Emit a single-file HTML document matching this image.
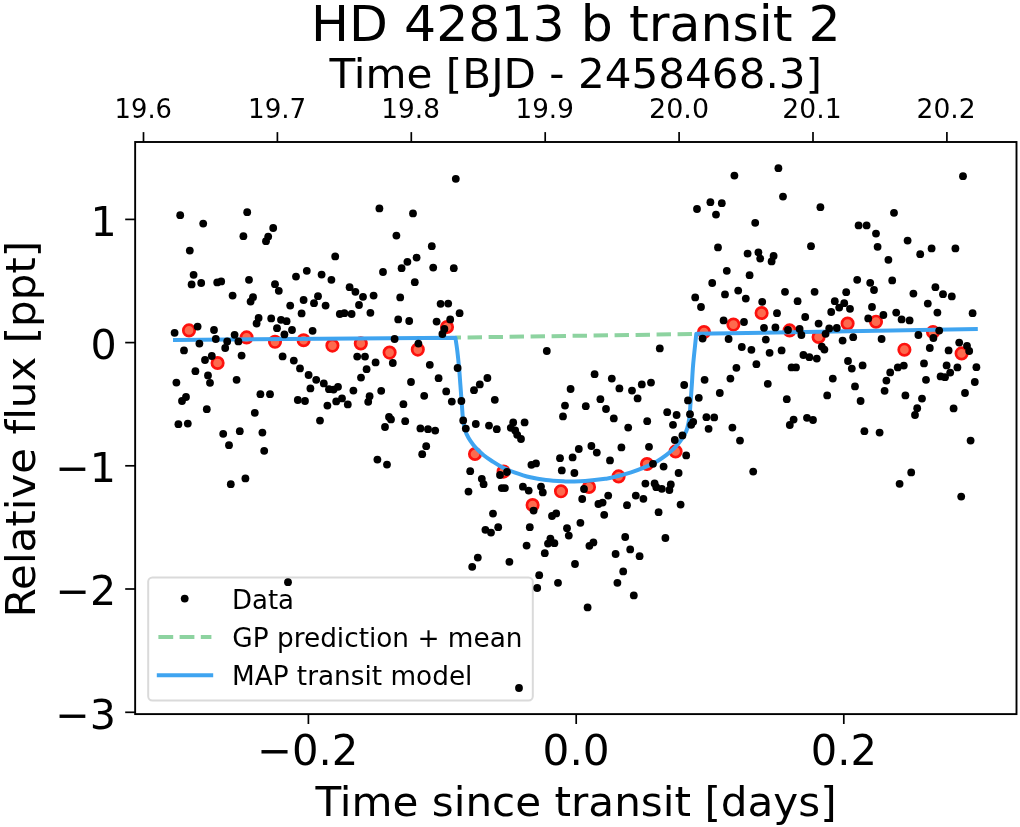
<!DOCTYPE html>
<html lang="en"><head><meta charset="utf-8"><title>HD 42813 b transit 2</title>
<style>html,body{margin:0;padding:0;background:#fff;}body{width:1020px;height:827px;overflow:hidden;}svg{display:block;}text{font-family:"DejaVu Sans", "Liberation Sans", sans-serif;fill:#000;font-variant-ligatures:none;}</style></head><body>
<svg width="1020" height="827" viewBox="0 0 1020 827">
<rect x="0" y="0" width="1020" height="827" fill="#fff"/>
<rect x="148.2" y="577.4" width="384.6" height="123" rx="4.2" ry="4.2" fill="#fff" stroke="#dadada" stroke-width="2"/>
<g fill="#fd6a4e" stroke="#fd120e" stroke-width="2.7">
<circle cx="189.0" cy="330.4" r="5.7"/>
<circle cx="217.6" cy="363.0" r="5.7"/>
<circle cx="246.6" cy="337.4" r="5.7"/>
<circle cx="275.0" cy="341.8" r="5.7"/>
<circle cx="303.6" cy="340.2" r="5.7"/>
<circle cx="332.4" cy="345.6" r="5.7"/>
<circle cx="360.8" cy="343.4" r="5.7"/>
<circle cx="389.6" cy="352.6" r="5.7"/>
<circle cx="417.8" cy="349.6" r="5.7"/>
<circle cx="447.0" cy="327.0" r="5.7"/>
<circle cx="475.0" cy="454.0" r="5.7"/>
<circle cx="503.6" cy="471.6" r="5.7"/>
<circle cx="532.6" cy="505.0" r="5.7"/>
<circle cx="561.0" cy="491.3" r="5.7"/>
<circle cx="589.0" cy="487.0" r="5.7"/>
<circle cx="618.6" cy="476.4" r="5.7"/>
<circle cx="647.0" cy="464.0" r="5.7"/>
<circle cx="675.6" cy="451.4" r="5.7"/>
<circle cx="704.0" cy="332.0" r="5.7"/>
<circle cx="733.4" cy="324.6" r="5.7"/>
<circle cx="761.6" cy="313.0" r="5.7"/>
<circle cx="789.6" cy="330.4" r="5.7"/>
<circle cx="818.6" cy="337.0" r="5.7"/>
<circle cx="847.6" cy="323.5" r="5.7"/>
<circle cx="876.0" cy="321.7" r="5.7"/>
<circle cx="904.4" cy="349.7" r="5.7"/>
<circle cx="933.0" cy="332.0" r="5.7"/>
<circle cx="961.6" cy="353.4" r="5.7"/>
</g>
<path d="M455.5 337.6 L696 334.0" fill="none" stroke="#8dd3a0" stroke-width="4" stroke-dasharray="14.4 6.6" stroke-dashoffset="8.9"/>
<path d="M175 339.9 L455.40 337.85 L455.40 337.85 C455.70 339.89 456.58 345.04 457.20 350.10 C457.82 355.16 458.57 362.35 459.10 368.20 C459.63 374.05 459.98 379.68 460.40 385.20 C460.82 390.72 461.32 397.50 461.60 401.30 C461.88 405.10 461.88 405.22 462.10 408.00 C462.32 410.78 462.48 414.65 462.90 418.00 C463.32 421.35 463.98 425.42 464.60 428.10 C465.22 430.78 465.60 431.93 466.60 434.10 C467.60 436.27 469.02 438.75 470.60 441.10 C472.18 443.45 473.92 445.85 476.10 448.20 C478.28 450.55 481.02 453.03 483.70 455.20 C486.38 457.37 489.12 459.20 492.20 461.20 C495.28 463.20 498.52 465.35 502.20 467.20 C505.88 469.05 509.62 470.62 514.30 472.30 C518.98 473.98 525.02 476.02 530.30 477.30 C535.58 478.58 540.18 479.32 546.00 480.00 C551.82 480.68 560.67 481.14 565.20 481.40 C569.73 481.66 569.87 481.62 573.20 481.55 C576.53 481.48 579.85 481.48 585.20 481.00 C590.55 480.52 600.67 479.32 605.30 478.70 C609.93 478.08 608.70 478.37 613.00 477.30 C617.30 476.23 625.75 473.98 631.10 472.30 C636.45 470.62 640.75 469.05 645.10 467.20 C649.45 465.35 653.68 463.20 657.20 461.20 C660.72 459.20 663.35 457.37 666.20 455.20 C669.05 453.03 671.95 450.55 674.30 448.20 C676.65 445.85 678.55 443.45 680.30 441.10 C682.05 438.75 683.63 436.27 684.80 434.10 C685.97 431.93 686.55 430.78 687.30 428.10 C688.05 425.42 688.80 421.60 689.30 418.00 C689.80 414.40 689.88 411.97 690.30 406.50 C690.72 401.03 691.33 392.08 691.80 385.20 C692.27 378.32 692.55 371.88 693.10 365.20 C693.65 358.52 694.57 350.33 695.10 345.10 C695.63 339.87 696.10 335.68 696.30 333.80 L975.8 329" fill="none" stroke="#3fa4f0" stroke-width="4" stroke-linejoin="round" stroke-linecap="square"/>
<g fill="#000">
<circle cx="180.2" cy="215.2" r="3.9"/>
<circle cx="203.2" cy="223.6" r="3.9"/>
<circle cx="247.2" cy="212.2" r="3.9"/>
<circle cx="273.2" cy="228.0" r="3.9"/>
<circle cx="243.4" cy="236.2" r="3.9"/>
<circle cx="268.2" cy="236.6" r="3.9"/>
<circle cx="266.0" cy="241.2" r="3.9"/>
<circle cx="189.8" cy="250.6" r="3.9"/>
<circle cx="335.2" cy="256.4" r="3.9"/>
<circle cx="193.6" cy="274.8" r="3.9"/>
<circle cx="191.6" cy="284.4" r="3.9"/>
<circle cx="201.2" cy="283.0" r="3.9"/>
<circle cx="217.2" cy="282.4" r="3.9"/>
<circle cx="221.2" cy="281.4" r="3.9"/>
<circle cx="249.0" cy="279.8" r="3.9"/>
<circle cx="306.8" cy="270.8" r="3.9"/>
<circle cx="296.0" cy="276.6" r="3.9"/>
<circle cx="321.6" cy="274.6" r="3.9"/>
<circle cx="331.4" cy="279.8" r="3.9"/>
<circle cx="275.0" cy="284.2" r="3.9"/>
<circle cx="278.8" cy="290.8" r="3.9"/>
<circle cx="232.6" cy="295.6" r="3.9"/>
<circle cx="253.0" cy="297.2" r="3.9"/>
<circle cx="250.6" cy="301.6" r="3.9"/>
<circle cx="349.6" cy="287.2" r="3.9"/>
<circle cx="355.4" cy="291.8" r="3.9"/>
<circle cx="363.0" cy="296.8" r="3.9"/>
<circle cx="373.6" cy="295.6" r="3.9"/>
<circle cx="318.0" cy="296.2" r="3.9"/>
<circle cx="303.6" cy="300.0" r="3.9"/>
<circle cx="314.0" cy="303.2" r="3.9"/>
<circle cx="325.6" cy="305.6" r="3.9"/>
<circle cx="290.2" cy="305.6" r="3.9"/>
<circle cx="359.0" cy="305.0" r="3.9"/>
<circle cx="301.6" cy="313.4" r="3.9"/>
<circle cx="339.8" cy="314.0" r="3.9"/>
<circle cx="344.4" cy="313.2" r="3.9"/>
<circle cx="351.6" cy="314.0" r="3.9"/>
<circle cx="370.4" cy="312.8" r="3.9"/>
<circle cx="258.6" cy="318.0" r="3.9"/>
<circle cx="271.2" cy="318.4" r="3.9"/>
<circle cx="281.0" cy="319.8" r="3.9"/>
<circle cx="286.6" cy="321.2" r="3.9"/>
<circle cx="256.6" cy="323.6" r="3.9"/>
<circle cx="197.6" cy="326.6" r="3.9"/>
<circle cx="455.8" cy="178.8" r="3.9"/>
<circle cx="379.4" cy="208.4" r="3.9"/>
<circle cx="413.0" cy="213.4" r="3.9"/>
<circle cx="396.4" cy="235.6" r="3.9"/>
<circle cx="431.8" cy="246.2" r="3.9"/>
<circle cx="416.6" cy="257.6" r="3.9"/>
<circle cx="407.4" cy="261.8" r="3.9"/>
<circle cx="401.6" cy="268.2" r="3.9"/>
<circle cx="433.2" cy="267.6" r="3.9"/>
<circle cx="453.8" cy="268.2" r="3.9"/>
<circle cx="383.0" cy="272.0" r="3.9"/>
<circle cx="414.8" cy="282.2" r="3.9"/>
<circle cx="400.2" cy="297.4" r="3.9"/>
<circle cx="440.6" cy="303.8" r="3.9"/>
<circle cx="448.2" cy="303.6" r="3.9"/>
<circle cx="459.6" cy="313.2" r="3.9"/>
<circle cx="398.2" cy="319.4" r="3.9"/>
<circle cx="409.2" cy="321.0" r="3.9"/>
<circle cx="436.6" cy="321.6" r="3.9"/>
<circle cx="450.2" cy="319.4" r="3.9"/>
<circle cx="734.4" cy="175.6" r="3.9"/>
<circle cx="778.4" cy="168.2" r="3.9"/>
<circle cx="710.4" cy="202.2" r="3.9"/>
<circle cx="721.8" cy="203.2" r="3.9"/>
<circle cx="697.0" cy="209.0" r="3.9"/>
<circle cx="716.0" cy="214.6" r="3.9"/>
<circle cx="755.2" cy="222.8" r="3.9"/>
<circle cx="718.0" cy="247.4" r="3.9"/>
<circle cx="747.6" cy="253.6" r="3.9"/>
<circle cx="758.4" cy="252.4" r="3.9"/>
<circle cx="760.2" cy="258.6" r="3.9"/>
<circle cx="773.6" cy="256.0" r="3.9"/>
<circle cx="771.6" cy="261.4" r="3.9"/>
<circle cx="726.8" cy="270.8" r="3.9"/>
<circle cx="749.6" cy="275.2" r="3.9"/>
<circle cx="712.2" cy="283.0" r="3.9"/>
<circle cx="738.2" cy="290.6" r="3.9"/>
<circle cx="725.0" cy="294.4" r="3.9"/>
<circle cx="745.8" cy="298.6" r="3.9"/>
<circle cx="695.2" cy="297.4" r="3.9"/>
<circle cx="701.0" cy="307.0" r="3.9"/>
<circle cx="762.2" cy="301.8" r="3.9"/>
<circle cx="777.0" cy="313.2" r="3.9"/>
<circle cx="723.6" cy="320.4" r="3.9"/>
<circle cx="744.0" cy="322.0" r="3.9"/>
<circle cx="764.0" cy="327.8" r="3.9"/>
<circle cx="775.4" cy="327.4" r="3.9"/>
<circle cx="783.0" cy="196.6" r="3.9"/>
<circle cx="963.0" cy="176.2" r="3.9"/>
<circle cx="820.4" cy="207.2" r="3.9"/>
<circle cx="894.0" cy="212.8" r="3.9"/>
<circle cx="858.6" cy="225.4" r="3.9"/>
<circle cx="866.6" cy="225.4" r="3.9"/>
<circle cx="876.0" cy="233.6" r="3.9"/>
<circle cx="907.6" cy="240.6" r="3.9"/>
<circle cx="811.0" cy="246.2" r="3.9"/>
<circle cx="877.6" cy="246.8" r="3.9"/>
<circle cx="931.6" cy="248.4" r="3.9"/>
<circle cx="955.4" cy="248.4" r="3.9"/>
<circle cx="920.2" cy="254.2" r="3.9"/>
<circle cx="888.4" cy="259.8" r="3.9"/>
<circle cx="857.2" cy="279.8" r="3.9"/>
<circle cx="892.2" cy="280.4" r="3.9"/>
<circle cx="870.2" cy="282.8" r="3.9"/>
<circle cx="874.0" cy="290.0" r="3.9"/>
<circle cx="935.4" cy="287.2" r="3.9"/>
<circle cx="785.0" cy="291.8" r="3.9"/>
<circle cx="814.6" cy="291.8" r="3.9"/>
<circle cx="846.2" cy="292.2" r="3.9"/>
<circle cx="913.4" cy="293.6" r="3.9"/>
<circle cx="943.0" cy="294.2" r="3.9"/>
<circle cx="951.8" cy="296.4" r="3.9"/>
<circle cx="797.6" cy="301.2" r="3.9"/>
<circle cx="834.8" cy="301.2" r="3.9"/>
<circle cx="844.2" cy="303.2" r="3.9"/>
<circle cx="839.2" cy="307.6" r="3.9"/>
<circle cx="850.0" cy="308.8" r="3.9"/>
<circle cx="927.8" cy="303.6" r="3.9"/>
<circle cx="872.0" cy="307.0" r="3.9"/>
<circle cx="831.2" cy="312.0" r="3.9"/>
<circle cx="883.4" cy="315.0" r="3.9"/>
<circle cx="896.2" cy="312.6" r="3.9"/>
<circle cx="937.4" cy="312.6" r="3.9"/>
<circle cx="972.6" cy="313.2" r="3.9"/>
<circle cx="805.2" cy="317.0" r="3.9"/>
<circle cx="868.2" cy="318.4" r="3.9"/>
<circle cx="901.6" cy="319.4" r="3.9"/>
<circle cx="909.6" cy="320.4" r="3.9"/>
<circle cx="818.6" cy="323.6" r="3.9"/>
<circle cx="836.8" cy="328.0" r="3.9"/>
<circle cx="174.6" cy="332.8" r="3.9"/>
<circle cx="214.0" cy="330.0" r="3.9"/>
<circle cx="277.0" cy="328.2" r="3.9"/>
<circle cx="292.0" cy="330.0" r="3.9"/>
<circle cx="312.6" cy="330.8" r="3.9"/>
<circle cx="284.4" cy="334.4" r="3.9"/>
<circle cx="234.6" cy="334.8" r="3.9"/>
<circle cx="215.8" cy="339.0" r="3.9"/>
<circle cx="227.2" cy="341.4" r="3.9"/>
<circle cx="238.4" cy="341.4" r="3.9"/>
<circle cx="199.4" cy="343.6" r="3.9"/>
<circle cx="225.2" cy="348.0" r="3.9"/>
<circle cx="184.0" cy="350.4" r="3.9"/>
<circle cx="211.8" cy="356.0" r="3.9"/>
<circle cx="205.0" cy="360.0" r="3.9"/>
<circle cx="241.6" cy="355.6" r="3.9"/>
<circle cx="282.6" cy="356.4" r="3.9"/>
<circle cx="293.8" cy="360.6" r="3.9"/>
<circle cx="357.2" cy="356.6" r="3.9"/>
<circle cx="365.0" cy="356.6" r="3.9"/>
<circle cx="300.0" cy="368.4" r="3.9"/>
<circle cx="366.6" cy="369.2" r="3.9"/>
<circle cx="195.4" cy="371.2" r="3.9"/>
<circle cx="208.0" cy="375.4" r="3.9"/>
<circle cx="308.6" cy="375.0" r="3.9"/>
<circle cx="361.0" cy="377.6" r="3.9"/>
<circle cx="236.6" cy="379.8" r="3.9"/>
<circle cx="316.2" cy="379.8" r="3.9"/>
<circle cx="176.4" cy="382.6" r="3.9"/>
<circle cx="210.0" cy="382.8" r="3.9"/>
<circle cx="323.8" cy="383.4" r="3.9"/>
<circle cx="338.0" cy="386.8" r="3.9"/>
<circle cx="310.4" cy="388.4" r="3.9"/>
<circle cx="329.0" cy="389.2" r="3.9"/>
<circle cx="333.6" cy="389.6" r="3.9"/>
<circle cx="353.4" cy="390.6" r="3.9"/>
<circle cx="260.4" cy="394.2" r="3.9"/>
<circle cx="270.0" cy="394.2" r="3.9"/>
<circle cx="369.6" cy="396.2" r="3.9"/>
<circle cx="186.0" cy="397.0" r="3.9"/>
<circle cx="182.0" cy="401.0" r="3.9"/>
<circle cx="342.0" cy="398.4" r="3.9"/>
<circle cx="297.8" cy="400.0" r="3.9"/>
<circle cx="305.0" cy="401.0" r="3.9"/>
<circle cx="336.2" cy="401.4" r="3.9"/>
<circle cx="368.2" cy="401.8" r="3.9"/>
<circle cx="347.8" cy="404.4" r="3.9"/>
<circle cx="327.4" cy="405.6" r="3.9"/>
<circle cx="206.8" cy="409.2" r="3.9"/>
<circle cx="254.8" cy="412.8" r="3.9"/>
<circle cx="320.0" cy="420.6" r="3.9"/>
<circle cx="178.4" cy="424.2" r="3.9"/>
<circle cx="187.8" cy="423.6" r="3.9"/>
<circle cx="239.8" cy="431.2" r="3.9"/>
<circle cx="223.2" cy="433.8" r="3.9"/>
<circle cx="262.4" cy="432.6" r="3.9"/>
<circle cx="229.0" cy="445.2" r="3.9"/>
<circle cx="264.2" cy="450.8" r="3.9"/>
<circle cx="245.4" cy="478.4" r="3.9"/>
<circle cx="230.8" cy="484.2" r="3.9"/>
<circle cx="444.4" cy="329.0" r="3.9"/>
<circle cx="442.4" cy="334.0" r="3.9"/>
<circle cx="394.6" cy="339.0" r="3.9"/>
<circle cx="418.4" cy="343.6" r="3.9"/>
<circle cx="546.8" cy="351.0" r="3.9"/>
<circle cx="375.6" cy="362.4" r="3.9"/>
<circle cx="392.8" cy="363.0" r="3.9"/>
<circle cx="429.8" cy="364.8" r="3.9"/>
<circle cx="457.6" cy="368.0" r="3.9"/>
<circle cx="438.6" cy="378.2" r="3.9"/>
<circle cx="487.4" cy="378.0" r="3.9"/>
<circle cx="411.0" cy="382.0" r="3.9"/>
<circle cx="479.8" cy="384.4" r="3.9"/>
<circle cx="474.0" cy="390.2" r="3.9"/>
<circle cx="570.6" cy="389.0" r="3.9"/>
<circle cx="381.2" cy="390.8" r="3.9"/>
<circle cx="446.2" cy="391.4" r="3.9"/>
<circle cx="424.2" cy="395.8" r="3.9"/>
<circle cx="494.8" cy="399.8" r="3.9"/>
<circle cx="451.8" cy="401.6" r="3.9"/>
<circle cx="461.4" cy="401.0" r="3.9"/>
<circle cx="403.4" cy="404.2" r="3.9"/>
<circle cx="565.0" cy="405.6" r="3.9"/>
<circle cx="563.0" cy="416.4" r="3.9"/>
<circle cx="389.0" cy="417.0" r="3.9"/>
<circle cx="391.0" cy="419.4" r="3.9"/>
<circle cx="405.2" cy="421.2" r="3.9"/>
<circle cx="463.2" cy="420.4" r="3.9"/>
<circle cx="513.2" cy="422.4" r="3.9"/>
<circle cx="524.6" cy="422.4" r="3.9"/>
<circle cx="475.8" cy="424.0" r="3.9"/>
<circle cx="489.0" cy="425.6" r="3.9"/>
<circle cx="385.0" cy="427.0" r="3.9"/>
<circle cx="510.8" cy="427.8" r="3.9"/>
<circle cx="420.4" cy="428.4" r="3.9"/>
<circle cx="428.0" cy="429.2" r="3.9"/>
<circle cx="435.2" cy="430.6" r="3.9"/>
<circle cx="465.8" cy="428.6" r="3.9"/>
<circle cx="496.8" cy="429.2" r="3.9"/>
<circle cx="515.2" cy="430.4" r="3.9"/>
<circle cx="517.2" cy="434.8" r="3.9"/>
<circle cx="521.0" cy="439.0" r="3.9"/>
<circle cx="426.2" cy="446.2" r="3.9"/>
<circle cx="422.2" cy="454.2" r="3.9"/>
<circle cx="578.8" cy="449.0" r="3.9"/>
<circle cx="377.4" cy="459.6" r="3.9"/>
<circle cx="387.0" cy="464.6" r="3.9"/>
<circle cx="560.0" cy="458.2" r="3.9"/>
<circle cx="572.6" cy="457.4" r="3.9"/>
<circle cx="536.0" cy="463.4" r="3.9"/>
<circle cx="531.4" cy="464.8" r="3.9"/>
<circle cx="561.8" cy="470.4" r="3.9"/>
<circle cx="470.2" cy="471.2" r="3.9"/>
<circle cx="574.4" cy="473.0" r="3.9"/>
<circle cx="507.0" cy="472.0" r="3.9"/>
<circle cx="500.0" cy="475.0" r="3.9"/>
<circle cx="481.8" cy="478.8" r="3.9"/>
<circle cx="483.6" cy="484.2" r="3.9"/>
<circle cx="501.8" cy="488.1" r="3.9"/>
<circle cx="522.9" cy="486.7" r="3.9"/>
<circle cx="541.0" cy="486.6" r="3.9"/>
<circle cx="468.5" cy="491.6" r="3.9"/>
<circle cx="528.7" cy="490.6" r="3.9"/>
<circle cx="702.6" cy="338.6" r="3.9"/>
<circle cx="728.6" cy="339.0" r="3.9"/>
<circle cx="765.8" cy="339.6" r="3.9"/>
<circle cx="659.8" cy="348.4" r="3.9"/>
<circle cx="741.8" cy="347.0" r="3.9"/>
<circle cx="751.4" cy="349.8" r="3.9"/>
<circle cx="781.6" cy="350.4" r="3.9"/>
<circle cx="769.6" cy="352.8" r="3.9"/>
<circle cx="756.4" cy="364.2" r="3.9"/>
<circle cx="736.4" cy="367.8" r="3.9"/>
<circle cx="594.6" cy="374.2" r="3.9"/>
<circle cx="611.8" cy="378.6" r="3.9"/>
<circle cx="730.4" cy="378.6" r="3.9"/>
<circle cx="704.6" cy="379.8" r="3.9"/>
<circle cx="651.0" cy="382.6" r="3.9"/>
<circle cx="641.8" cy="384.4" r="3.9"/>
<circle cx="684.2" cy="385.0" r="3.9"/>
<circle cx="767.8" cy="383.8" r="3.9"/>
<circle cx="619.4" cy="388.4" r="3.9"/>
<circle cx="632.0" cy="390.6" r="3.9"/>
<circle cx="719.8" cy="393.0" r="3.9"/>
<circle cx="637.6" cy="398.4" r="3.9"/>
<circle cx="698.8" cy="397.8" r="3.9"/>
<circle cx="600.4" cy="399.2" r="3.9"/>
<circle cx="688.0" cy="400.4" r="3.9"/>
<circle cx="585.8" cy="406.2" r="3.9"/>
<circle cx="606.0" cy="409.0" r="3.9"/>
<circle cx="667.2" cy="412.2" r="3.9"/>
<circle cx="676.6" cy="415.0" r="3.9"/>
<circle cx="690.0" cy="414.2" r="3.9"/>
<circle cx="613.8" cy="418.4" r="3.9"/>
<circle cx="706.4" cy="417.2" r="3.9"/>
<circle cx="714.2" cy="417.4" r="3.9"/>
<circle cx="647.2" cy="421.2" r="3.9"/>
<circle cx="693.2" cy="421.8" r="3.9"/>
<circle cx="691.2" cy="424.8" r="3.9"/>
<circle cx="673.0" cy="424.8" r="3.9"/>
<circle cx="628.2" cy="427.6" r="3.9"/>
<circle cx="708.6" cy="428.8" r="3.9"/>
<circle cx="732.4" cy="427.6" r="3.9"/>
<circle cx="682.4" cy="435.4" r="3.9"/>
<circle cx="674.8" cy="440.0" r="3.9"/>
<circle cx="740.0" cy="440.6" r="3.9"/>
<circle cx="591.4" cy="446.0" r="3.9"/>
<circle cx="621.4" cy="447.4" r="3.9"/>
<circle cx="649.0" cy="446.8" r="3.9"/>
<circle cx="596.8" cy="452.6" r="3.9"/>
<circle cx="686.2" cy="455.4" r="3.9"/>
<circle cx="610.0" cy="460.4" r="3.9"/>
<circle cx="653.0" cy="463.8" r="3.9"/>
<circle cx="663.6" cy="466.6" r="3.9"/>
<circle cx="678.6" cy="473.0" r="3.9"/>
<circle cx="753.2" cy="471.6" r="3.9"/>
<circle cx="645.4" cy="483.6" r="3.9"/>
<circle cx="654.6" cy="483.4" r="3.9"/>
<circle cx="670.8" cy="484.4" r="3.9"/>
<circle cx="661.8" cy="488.8" r="3.9"/>
<circle cx="584.0" cy="489.0" r="3.9"/>
<circle cx="788.0" cy="330.0" r="3.9"/>
<circle cx="799.6" cy="329.0" r="3.9"/>
<circle cx="829.2" cy="328.4" r="3.9"/>
<circle cx="801.4" cy="335.0" r="3.9"/>
<circle cx="825.6" cy="333.8" r="3.9"/>
<circle cx="939.2" cy="330.6" r="3.9"/>
<circle cx="853.2" cy="337.2" r="3.9"/>
<circle cx="918.4" cy="335.0" r="3.9"/>
<circle cx="933.4" cy="338.0" r="3.9"/>
<circle cx="881.6" cy="339.0" r="3.9"/>
<circle cx="842.6" cy="340.6" r="3.9"/>
<circle cx="959.2" cy="342.6" r="3.9"/>
<circle cx="967.0" cy="345.8" r="3.9"/>
<circle cx="821.8" cy="346.6" r="3.9"/>
<circle cx="824.4" cy="349.6" r="3.9"/>
<circle cx="929.8" cy="348.0" r="3.9"/>
<circle cx="948.6" cy="350.4" r="3.9"/>
<circle cx="969.2" cy="351.0" r="3.9"/>
<circle cx="803.4" cy="355.0" r="3.9"/>
<circle cx="809.4" cy="357.2" r="3.9"/>
<circle cx="816.8" cy="358.6" r="3.9"/>
<circle cx="848.0" cy="361.0" r="3.9"/>
<circle cx="862.6" cy="365.4" r="3.9"/>
<circle cx="903.8" cy="365.6" r="3.9"/>
<circle cx="924.0" cy="363.4" r="3.9"/>
<circle cx="946.6" cy="365.4" r="3.9"/>
<circle cx="897.8" cy="367.4" r="3.9"/>
<circle cx="791.6" cy="367.4" r="3.9"/>
<circle cx="796.0" cy="367.4" r="3.9"/>
<circle cx="851.8" cy="368.6" r="3.9"/>
<circle cx="957.4" cy="367.4" r="3.9"/>
<circle cx="976.4" cy="367.2" r="3.9"/>
<circle cx="890.2" cy="372.4" r="3.9"/>
<circle cx="950.2" cy="372.6" r="3.9"/>
<circle cx="940.6" cy="376.4" r="3.9"/>
<circle cx="945.0" cy="377.2" r="3.9"/>
<circle cx="832.8" cy="378.6" r="3.9"/>
<circle cx="886.4" cy="380.6" r="3.9"/>
<circle cx="926.0" cy="379.8" r="3.9"/>
<circle cx="974.8" cy="382.0" r="3.9"/>
<circle cx="855.0" cy="386.4" r="3.9"/>
<circle cx="884.6" cy="390.8" r="3.9"/>
<circle cx="965.0" cy="393.0" r="3.9"/>
<circle cx="827.2" cy="395.4" r="3.9"/>
<circle cx="905.4" cy="395.4" r="3.9"/>
<circle cx="786.8" cy="399.2" r="3.9"/>
<circle cx="922.0" cy="398.6" r="3.9"/>
<circle cx="860.6" cy="401.0" r="3.9"/>
<circle cx="917.2" cy="408.2" r="3.9"/>
<circle cx="953.6" cy="408.4" r="3.9"/>
<circle cx="915.0" cy="415.0" r="3.9"/>
<circle cx="793.6" cy="419.6" r="3.9"/>
<circle cx="807.0" cy="417.8" r="3.9"/>
<circle cx="813.0" cy="420.0" r="3.9"/>
<circle cx="789.8" cy="425.0" r="3.9"/>
<circle cx="864.4" cy="431.2" r="3.9"/>
<circle cx="879.6" cy="432.6" r="3.9"/>
<circle cx="970.6" cy="440.6" r="3.9"/>
<circle cx="911.2" cy="472.4" r="3.9"/>
<circle cx="899.6" cy="483.8" r="3.9"/>
<circle cx="288.0" cy="582.2" r="3.9"/>
<circle cx="542.8" cy="492.4" r="3.9"/>
<circle cx="493.0" cy="513.6" r="3.9"/>
<circle cx="533.6" cy="510.6" r="3.9"/>
<circle cx="556.2" cy="513.4" r="3.9"/>
<circle cx="552.0" cy="516.0" r="3.9"/>
<circle cx="485.4" cy="529.8" r="3.9"/>
<circle cx="491.0" cy="532.6" r="3.9"/>
<circle cx="498.2" cy="527.2" r="3.9"/>
<circle cx="529.8" cy="527.2" r="3.9"/>
<circle cx="567.0" cy="528.2" r="3.9"/>
<circle cx="568.8" cy="535.6" r="3.9"/>
<circle cx="550.4" cy="538.6" r="3.9"/>
<circle cx="554.4" cy="543.2" r="3.9"/>
<circle cx="548.0" cy="543.6" r="3.9"/>
<circle cx="526.6" cy="545.6" r="3.9"/>
<circle cx="544.8" cy="553.2" r="3.9"/>
<circle cx="477.8" cy="557.6" r="3.9"/>
<circle cx="509.4" cy="561.8" r="3.9"/>
<circle cx="472.2" cy="566.8" r="3.9"/>
<circle cx="575.0" cy="564.0" r="3.9"/>
<circle cx="539.2" cy="575.2" r="3.9"/>
<circle cx="558.0" cy="582.8" r="3.9"/>
<circle cx="537.2" cy="588.0" r="3.9"/>
<circle cx="582.2" cy="499.0" r="3.9"/>
<circle cx="608.2" cy="495.6" r="3.9"/>
<circle cx="635.8" cy="495.6" r="3.9"/>
<circle cx="643.4" cy="498.8" r="3.9"/>
<circle cx="669.4" cy="490.0" r="3.9"/>
<circle cx="602.6" cy="502.6" r="3.9"/>
<circle cx="598.4" cy="504.0" r="3.9"/>
<circle cx="627.0" cy="505.2" r="3.9"/>
<circle cx="680.6" cy="504.6" r="3.9"/>
<circle cx="658.6" cy="512.2" r="3.9"/>
<circle cx="604.2" cy="514.8" r="3.9"/>
<circle cx="580.4" cy="522.8" r="3.9"/>
<circle cx="625.2" cy="537.0" r="3.9"/>
<circle cx="665.4" cy="538.0" r="3.9"/>
<circle cx="593.4" cy="542.4" r="3.9"/>
<circle cx="589.4" cy="545.8" r="3.9"/>
<circle cx="630.2" cy="549.4" r="3.9"/>
<circle cx="615.6" cy="554.0" r="3.9"/>
<circle cx="639.6" cy="556.2" r="3.9"/>
<circle cx="623.2" cy="571.4" r="3.9"/>
<circle cx="617.4" cy="582.8" r="3.9"/>
<circle cx="633.8" cy="595.4" r="3.9"/>
<circle cx="587.6" cy="607.4" r="3.9"/>
<circle cx="961.2" cy="496.6" r="3.9"/>
<circle cx="519.0" cy="688.0" r="3.9"/>
<circle cx="504.9" cy="488.1" r="3.9"/>
<circle cx="656.3" cy="487.2" r="3.9"/>
</g>
<circle cx="184.7" cy="598.6" r="3.9" fill="#000"/>
<path d="M158.4 637 H211.4" stroke="#8dd3a0" stroke-width="4" stroke-dasharray="14.8 6.4" fill="none"/>
<path d="M158.8 675.3 H211.2" stroke="#3fa4f0" stroke-width="4" stroke-linecap="square" fill="none"/>
<rect x="135.15" y="142.00" width="881.35" height="572.10" fill="none" stroke="#000" stroke-width="1.9"/>
<g stroke="#000" stroke-width="1.7" fill="none">
<path d="M143.5 142.0 V132.1"/>
<path d="M277.4 142.0 V132.1"/>
<path d="M411.3 142.0 V132.1"/>
<path d="M545.2 142.0 V132.1"/>
<path d="M679.1 142.0 V132.1"/>
<path d="M813.0 142.0 V132.1"/>
<path d="M946.9 142.0 V132.1"/>
<path d="M308.4 714.1 V724.0"/>
<path d="M576.2 714.1 V724.0"/>
<path d="M843.8 714.1 V724.0"/>
<path d="M135.2 219.4 H125.2"/>
<path d="M135.2 342.6 H125.2"/>
<path d="M135.2 465.8 H125.2"/>
<path d="M135.2 589.0 H125.2"/>
<path d="M135.2 712.3 H125.2"/>
</g>
<text id="title" font-size="50.0px" textLength="529.65" lengthAdjust="spacingAndGlyphs" x="311.12" y="40.90">HD 42813 b transit 2</text>
<text id="toplabel" font-size="41.0px" textLength="492.64" lengthAdjust="spacingAndGlyphs" x="329.42" y="88.30">Time [BJD - 2458468.3]</text>
<text id="xlabel" font-size="41.3px" textLength="521.23" lengthAdjust="spacingAndGlyphs" x="315.40" y="816.00">Time since transit [days]</text>
<text id="ylabel" font-size="41.3px" textLength="376.45" lengthAdjust="spacingAndGlyphs" transform="translate(35.00 617.24) rotate(-90)">Relative flux [ppt]</text>
<text id="leg1" font-size="26.0px" textLength="62.05" lengthAdjust="spacingAndGlyphs" x="232.00" y="608.60">Data</text>
<text id="leg2" font-size="26.0px" textLength="290.11" lengthAdjust="spacingAndGlyphs" x="232.38" y="646.60">GP prediction + mean</text>
<text id="leg3" font-size="26.0px" textLength="240.41" lengthAdjust="spacingAndGlyphs" x="231.97" y="685.40">MAP transit model</text>
<text id="bt0" font-size="42.2px" textLength="101.27" lengthAdjust="spacingAndGlyphs" x="257.04" y="764.80">−0.2</text>
<text id="bt1" font-size="42.2px" textLength="67.09" lengthAdjust="spacingAndGlyphs" x="542.55" y="764.80">0.0</text>
<text id="bt2" font-size="42.2px" textLength="66.07" lengthAdjust="spacingAndGlyphs" x="810.84" y="764.80">0.2</text>
<text id="tt0" font-size="26.0px" textLength="57.36" lengthAdjust="spacingAndGlyphs" x="114.62" y="117.70">19.6</text>
<text id="tt1" font-size="26.0px" textLength="58.24" lengthAdjust="spacingAndGlyphs" x="248.02" y="117.70">19.7</text>
<text id="tt2" font-size="26.0px" textLength="58.64" lengthAdjust="spacingAndGlyphs" x="381.36" y="117.70">19.8</text>
<text id="tt3" font-size="26.0px" textLength="58.23" lengthAdjust="spacingAndGlyphs" x="515.58" y="117.70">19.9</text>
<text id="tt4" font-size="26.0px" textLength="59.94" lengthAdjust="spacingAndGlyphs" x="649.09" y="117.70">20.0</text>
<text id="tt5" font-size="26.0px" textLength="59.18" lengthAdjust="spacingAndGlyphs" x="782.36" y="117.70">20.1</text>
<text id="tt6" font-size="26.0px" textLength="59.07" lengthAdjust="spacingAndGlyphs" x="916.57" y="117.70">20.2</text>
<text id="yt0" font-size="41.2px" text-anchor="end" x="116.74" y="235.60">1</text>
<text id="yt1" font-size="41.2px" text-anchor="end" x="116.80" y="358.80">0</text>
<text id="yt2" font-size="41.2px" text-anchor="end" x="116.00" y="482.00">−1</text>
<text id="yt3" font-size="41.2px" text-anchor="end" x="116.26" y="605.20">−2</text>
<text id="yt4" font-size="41.2px" text-anchor="end" x="116.00" y="728.50">−3</text>
</svg></body></html>
